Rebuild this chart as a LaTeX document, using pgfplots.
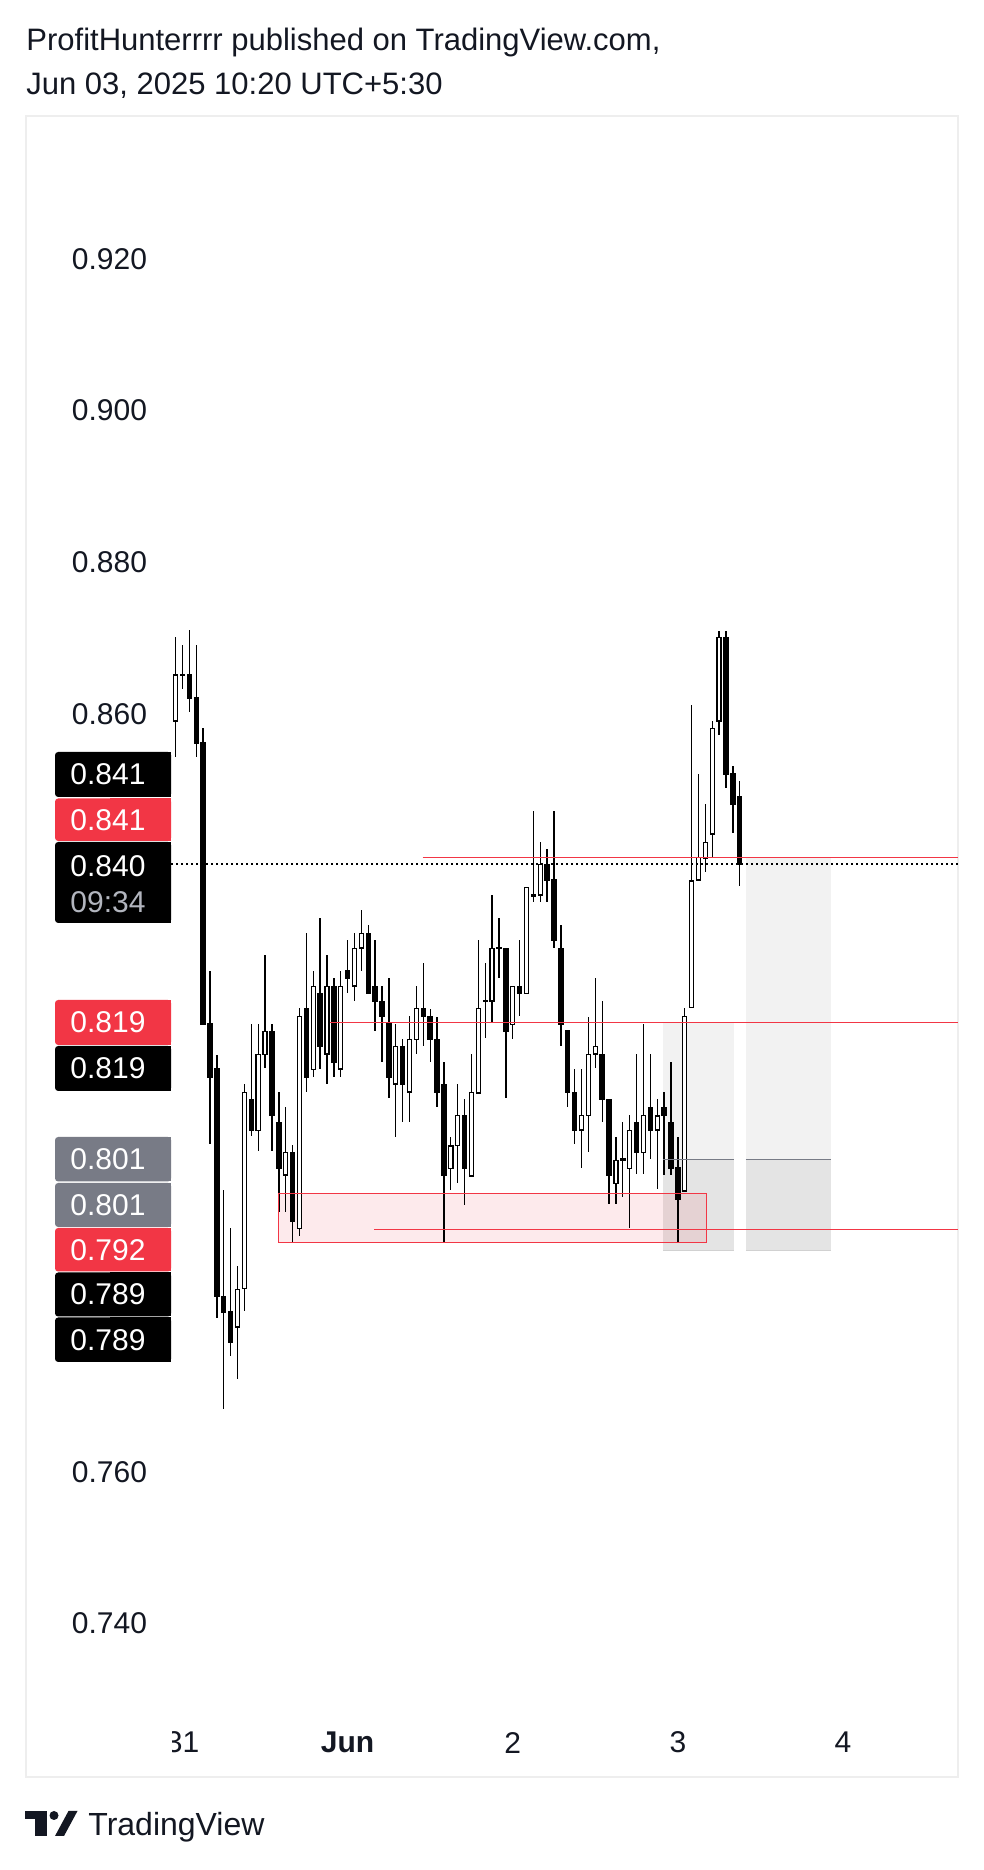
\documentclass[border=0pt]{standalone}
\usepackage{fontspec}
\setmainfont{Liberation Sans}
\usepackage{pgfplots}
\pgfplotsset{compat=1.18}
\usepackage{pgfplotstable}

\definecolor{tvred}{HTML}{F23645}
\definecolor{tvgray}{HTML}{787B86}
\definecolor{tvtext}{HTML}{131722}
\definecolor{tvlabelgray}{HTML}{B2B5BE}
\definecolor{regionlight}{HTML}{F2F2F2}
\definecolor{regiondark}{HTML}{E4E4E4}
\definecolor{framegray}{HTML}{EEEEEE}

% t = hour from May 31 00:00, o, hi, lo, c
\pgfplotstableread{
t o hi lo c
-1 0.85905 0.87015 0.85433 0.86510
0 0.86510 0.86914 0.86329 0.86520
8 0.77908 0.78716 0.77221 0.78406
9 0.78420 0.81119 0.78123 0.81004
11 0.80506 0.81906 0.80230 0.81502
12 0.81509 0.82815 0.81327 0.81812
15 0.79914 0.80809 0.79429 0.80210
17 0.79211 0.82114 0.79115 0.82008
19 0.81309 0.82606 0.81213 0.82400
21 0.81511 0.82813 0.81120 0.82400
23 0.81314 0.82606 0.81213 0.82400
25 0.82409 0.83104 0.82215 0.82901
26 0.82910 0.83407 0.82611 0.83104
31 0.81116 0.81907 0.80421 0.81608
33 0.81015 0.82013 0.80619 0.81705
34 0.81705 0.82409 0.81511 0.82110
39 0.80003 0.80412 0.79717 0.80298
40 0.80307 0.81111 0.79814 0.80702
42 0.79906 0.81511 0.79906 0.81001
43 0.81001 0.83015 0.81001 0.82110
44 0.82205 0.82708 0.81718 0.82220
45 0.82215 0.83605 0.81916 0.82901
46 0.82905 0.83301 0.82518 0.82920
48 0.81903 0.82400 0.81714 0.82400
50 0.82312 0.83720 0.82300 0.83710
51 0.83600 0.84717 0.83521 0.83615
52 0.83609 0.84309 0.83521 0.84009
58 0.80509 0.81309 0.80012 0.80702
59 0.80702 0.82004 0.80223 0.81503
60 0.81511 0.82510 0.81322 0.81608
63 0.79805 0.80412 0.79528 0.80104
64 0.80115 0.80610 0.79620 0.80130
65 0.80003 0.80702 0.79220 0.80500
67 0.80214 0.81903 0.79924 0.80702
69 0.80507 0.80918 0.79730 0.80696
73 0.79707 0.82117 0.79700 0.82006
74 0.82128 0.86116 0.82120 0.83794
75 0.83805 0.85205 0.83800 0.84100
76 0.84100 0.84805 0.83917 0.84305
77 0.84416 0.85905 0.84117 0.85805
78 0.85905 0.87098 0.85716 0.87004
}\updata

\pgfplotstableread{
t o hi lo c
1 0.86510 0.87103 0.86026 0.86207
2 0.86207 0.86914 0.85433 0.85615
3 0.85615 0.85810 0.81900 0.81906
4 0.81906 0.82606 0.80318 0.81199
5 0.81314 0.81502 0.78029 0.78312
6 0.78312 0.79719 0.76831 0.78110
7 0.78110 0.79214 0.77524 0.77713
10 0.80910 0.81906 0.80425 0.80506
13 0.81812 0.81906 0.80230 0.80708
14 0.80607 0.81004 0.79429 0.80001
16 0.80210 0.80305 0.79025 0.79308
18 0.82114 0.83104 0.81015 0.81204
20 0.82312 0.83301 0.81314 0.81608
22 0.82400 0.82510 0.81213 0.81402
24 0.82606 0.83011 0.82321 0.82510
27 0.83104 0.83209 0.82300 0.82312
28 0.82400 0.83011 0.81819 0.82211
29 0.82206 0.82404 0.81410 0.82013
30 0.81907 0.82510 0.80927 0.81204
32 0.81608 0.81705 0.80619 0.81116
35 0.82110 0.82708 0.81617 0.82004
36 0.82004 0.82110 0.81410 0.81705
37 0.81705 0.82004 0.80817 0.81006
38 0.81111 0.81401 0.79022 0.79906
41 0.80702 0.80913 0.79519 0.80003
47 0.82905 0.82910 0.80927 0.81806
49 0.82400 0.83015 0.82017 0.82312
53 0.84009 0.84212 0.83521 0.83807
54 0.83807 0.84717 0.82914 0.83007
55 0.82905 0.83213 0.81621 0.81903
56 0.81815 0.81820 0.80817 0.81006
57 0.81006 0.81309 0.80320 0.80509
61 0.81503 0.82211 0.80619 0.80913
62 0.80913 0.80920 0.79528 0.79906
66 0.80610 0.81511 0.79924 0.80214
68 0.80803 0.81511 0.80122 0.80509
70 0.80807 0.81007 0.79918 0.80707
71 0.80607 0.81406 0.79918 0.80007
72 0.80007 0.80418 0.79030 0.79596
79 0.87004 0.87098 0.85016 0.85205
80 0.85205 0.85305 0.84422 0.84805
81 0.84905 0.85111 0.83728 0.84017
}\downdata

\def\be{0.00009}

\pgfplotsset{
  candlewick/.style={draw=none, mark=none, forget plot,
    error bars/.cd, y dir=both, y explicit, error mark=none,
    error bar style={draw=black, line width=0.67pt, solid, line cap=butt}},
  candlebody/.style={draw=none, mark=none, forget plot,
    error bars/.cd, y dir=both, y explicit, error mark=none,
    error bar style={draw=black, line width=2.7pt, solid, line cap=butt}},
  candleinner/.style={draw=none, mark=none, forget plot,
    error bars/.cd, y dir=plus, y explicit, error mark=none,
    error bar style={draw=white, line width=1.35pt, solid, line cap=butt}},
}

\newcommand\plabel[4]{%
  \fill[#3, rounded corners=1.6pt] (55,#1) rectangle (171,#2);
  \fill[#3] (110,#1) rectangle (171,#2);
  \node[anchor=west, inner sep=0pt, text=white, font=\fontsize{15}{18}\selectfont] at (70,{(#1+#2)/2}) {#4};
}

\begin{document}
\begin{tikzpicture}
\fill[white] (0,0) rectangle (492pt,935pt);
\useasboundingbox (0,0) rectangle (492pt,935pt);

\begin{axis}[
  at={(13pt,46.5pt)}, anchor=south west,
  scale only axis, width=466pt, height=830.5pt,
  xmin=-22.75, xmax=112.72, ymin=0.71973, ymax=0.93887,
  axis line style={draw=framegray, line width=0.6pt},
  major tick length=0pt,
  xtick={0,24,48,72,96},
  xticklabels={31,\textbf{Jun},2,3,4},
  ytick={0.74,0.76,0.86,0.88,0.90,0.92},
  yticklabels={0.740,0.760,0.860,0.880,0.900,0.920},
  scaled y ticks=false,
  tick label style={font=\fontsize{15}{18}\selectfont, text=tvtext},
  xticklabel style={anchor=center, inner sep=0pt, yshift=17.2pt},
  yticklabel style={anchor=west, inner sep=0pt, xshift=22.75pt},
]
% position tool regions
\fill[regionlight] (axis cs:69.88,0.80121) rectangle (axis cs:80.16,0.8192);
\fill[regiondark] (axis cs:69.88,0.78919) rectangle (axis cs:80.16,0.80121);
\fill[regionlight] (axis cs:81.9,0.80121) rectangle (axis cs:94.21,0.8411);
\fill[regiondark] (axis cs:81.9,0.78919) rectangle (axis cs:94.21,0.80121);
\draw[black!18, line width=0.5pt] (axis cs:69.88,0.78919) -- (axis cs:80.16,0.78919);
\draw[black!18, line width=0.5pt] (axis cs:81.9,0.78919) -- (axis cs:94.21,0.78919);
% demand box
\fill[tvred, fill opacity=0.1] (axis cs:13.92,0.79022) rectangle (axis cs:76.15,0.79669);

% candles
\addplot[candlewick] table[x=t, y=o, y error plus expr=\thisrow{hi}-\thisrow{o}, y error minus expr=\thisrow{o}-\thisrow{lo}] {\updata};
\addplot[candlewick] table[x=t, y=o, y error plus expr=\thisrow{hi}-\thisrow{o}, y error minus expr=\thisrow{o}-\thisrow{lo}] {\downdata};
\addplot[candlebody] table[x=t, y=o, y error plus expr=\thisrow{c}-\thisrow{o}+\be, y error minus expr=\be] {\updata};
\addplot[candlebody] table[x=t, y=o, y error plus expr=\be, y error minus expr=\thisrow{o}-\thisrow{c}+\be] {\downdata};
\addplot[candleinner] table[x=t, y expr=\thisrow{o}+\be, y error plus expr={max(\thisrow{c}-\thisrow{o}-2*\be,0)}] {\updata};

% drawings
\draw[tvred, line width=0.67pt] (axis cs:13.92,0.79022) rectangle (axis cs:76.15,0.79669);
\draw[tvgray, line width=0.7pt] (axis cs:69.88,0.80121) -- (axis cs:80.16,0.80121);
\draw[tvgray, line width=0.7pt] (axis cs:81.9,0.80121) -- (axis cs:94.21,0.80121);
\draw[tvred, line width=0.67pt] (axis cs:34.9,0.8410) -- (axis cs:112.72,0.8410);
\draw[tvred, line width=0.67pt] (axis cs:21.4,0.8193) -- (axis cs:112.72,0.8193);
\draw[tvred, line width=0.67pt] (axis cs:27.9,0.7920) -- (axis cs:112.72,0.7920);
\draw[black, line width=0.67pt, dash pattern=on 1pt off 1.5pt] (axis cs:-1.67,0.8402) -- (axis cs:112.72,0.8402);
\end{axis}

\begin{scope}[x=0.5pt, y=-0.5pt, shift={(0pt,935pt)}]
% hide part of "31" behind price scale
\fill[white] (27,1722) rectangle (171.5,1764);
% price scale labels
\plabel{752}{797}{black}{0.841}
\plabel{798.5}{841}{tvred}{0.841}
\fill[black, rounded corners=1.6pt] (55,842) rectangle (171,923);
\fill[black] (110,842) rectangle (171,923);
\node[anchor=west, inner sep=0pt, text=white, font=\fontsize{15}{18}\selectfont] at (70,866) {0.840};
\node[anchor=west, inner sep=0pt, text=tvlabelgray, font=\fontsize{15}{18}\selectfont] at (70,901.7) {09:34};
\plabel{1000}{1045}{tvred}{0.819}
\plabel{1046}{1091}{black}{0.819}
\plabel{1137}{1181.5}{tvgray}{0.801}
\plabel{1183}{1227}{tvgray}{0.801}
\plabel{1228}{1271.5}{tvred}{0.792}
\plabel{1272.5}{1316.5}{black}{0.789}
\plabel{1317.5}{1362}{black}{0.789}
% header
\node[anchor=base west, inner sep=0pt, text=tvtext, font=\fontsize{15.5}{18}\selectfont] at (26,50.7) {ProfitHunterrrr published on TradingView.com,};
\node[anchor=base west, inner sep=0pt, text=tvtext, font=\fontsize{15.5}{18}\selectfont] at (26,95) {Jun 03, 2025 10:20 UTC+5:30};
% footer logo
\fill[tvtext] (25,1811) rectangle (47,1819);
\fill[tvtext] (34.5,1811) rectangle (47,1836);
\fill[tvtext] (54,1815.5) circle[radius=4.5];
\fill[tvtext] (55,1836) -- (64,1836) -- (77.5,1811) -- (68.5,1811) -- cycle;
\node[anchor=base west, inner sep=0pt, text=tvtext, font=\fontsize{16}{19}\selectfont] at (88,1836) {TradingView};
\end{scope}
\end{tikzpicture}
\end{document}
